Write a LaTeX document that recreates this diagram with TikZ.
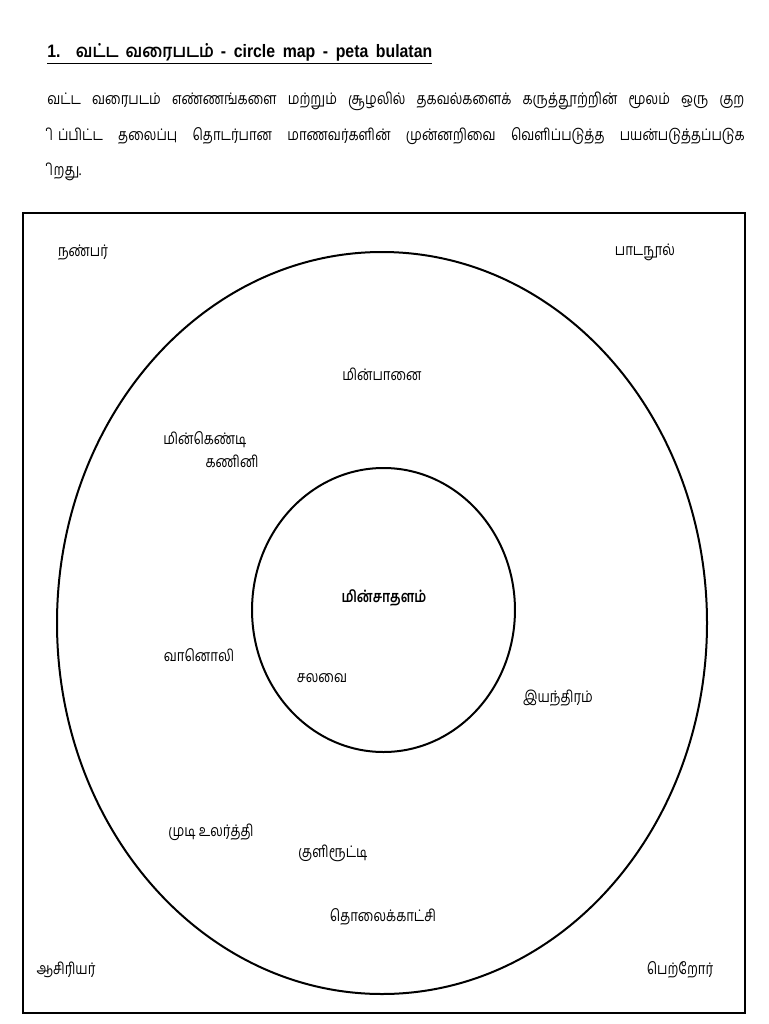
\documentclass[tikz,border=0pt]{standalone}
\usepackage{fontspec}
\newfontfamily\tam[Script=Tamil,FakeStretch=0.82]{Hind Madurai}
\newfontfamily\tamt[Script=Tamil,FakeStretch=0.9]{Hind Madurai}
\newfontfamily\lat[FakeStretch=0.88]{Liberation Sans}
\usetikzlibrary{positioning}
\tikzset{
  item/.style={font={\tam\fontsize{12}{14}\selectfont}, inner sep=0pt},
  para/.style={font={\tam\fontsize{12}{14}\selectfont}, inner sep=0pt, anchor=base west},
  heading/.style={font={\fontsize{13.5}{16}\selectfont\bfseries}, inner sep=0pt, anchor=base west},
  frame/.style={line width=1.6pt},
  ring/.style={line width=1.5pt}
}
\begin{document}
\begin{tikzpicture}[x=0.75pt,y=-0.75pt]
\useasboundingbox (0,0) rectangle (768,1024);
\fill[white] (0,0) rectangle (768,1024);
\node[heading] (title) at (47,58) {\underline{\makebox[288.75pt][s]{\lat 1. \tamt வட்ட வரைபடம் \lat - circle map - peta bulatan}}};
\node[para] (line1) at (47,104) {\makebox[522.75pt][s]{வட்ட வரைபடம் எண்ணங்களை மற்றும் சூழலில் தகவல்களைக் கருத்தூற்றின் மூலம் ஒரு குற}};
\node[para, anchor=base east] (pa2) at (50,140) {\phantom{ற}};
\begin{scope}
\clip (pa2.base) ++(0,-10) rectangle (80,110) (pa2.base east) ++(0,12) rectangle (80,110);
\node[para] (sign2) at (pa2.base west) {றி};
\end{scope}
\node[para, anchor=base east] (line2) at (745,140) {\makebox[515pt][s]{ப்பிட்ட தலைப்பு தொடர்பான மாணவர்களின் முன்னறிவை வெளிப்படுத்த பயன்படுத்தப்படுக}};
\node[para, anchor=base east] (pa3) at (50,175) {\phantom{ற}};
\begin{scope}
\clip (pa3.base) ++(0,-10) rectangle (80,145) (pa3.base east) ++(0,12) rectangle (80,145);
\node[para] (sign3) at (pa3.base west) {றி};
\end{scope}
\node[para] (line3) at (sign3.base east) {றது.};
\draw[frame] (23,213) rectangle (745,1013);
\draw[ring] (382,623) ellipse [x radius=243.75pt, y radius=278.25pt];
\draw[ring] (383.5,610) ellipse [x radius=98.6pt, y radius=106.5pt];
\node[item] (friend) at (83,253) {நண்பர்};
\node[item] (textbook) at (645,252) {பாடநூல்};
\node[item] (teacher) at (66,970) {ஆசிரியர்};
\node[item] (parents) at (680,970) {பெற்றோர்};
\node[item] (ricecooker) at (382,374) {மின்பானை};
\node[item] (kettle) at (205,440) {மின்கெண்டி};
\node[item] (computer) at (232,461) {கணினி};
\node[item, font={\tam\fontsize{12}{14}\selectfont\bfseries}] (centre) at (384,598) {மின்சாதளம்};
\node[item] (radio) at (199,655) {வானொலி};
\node[item] (washer) at (322,678) {சலவை};
\node[item] (machine) at (558,698) {இயந்திரம்};
\node[item] (dryer) at (211,832) {முடி உலர்த்தி};
\node[item] (aircon) at (333,853) {குளிரூட்டி};
\node[item] (television) at (383,917) {தொலைக்காட்சி};
\end{tikzpicture}
\end{document}
